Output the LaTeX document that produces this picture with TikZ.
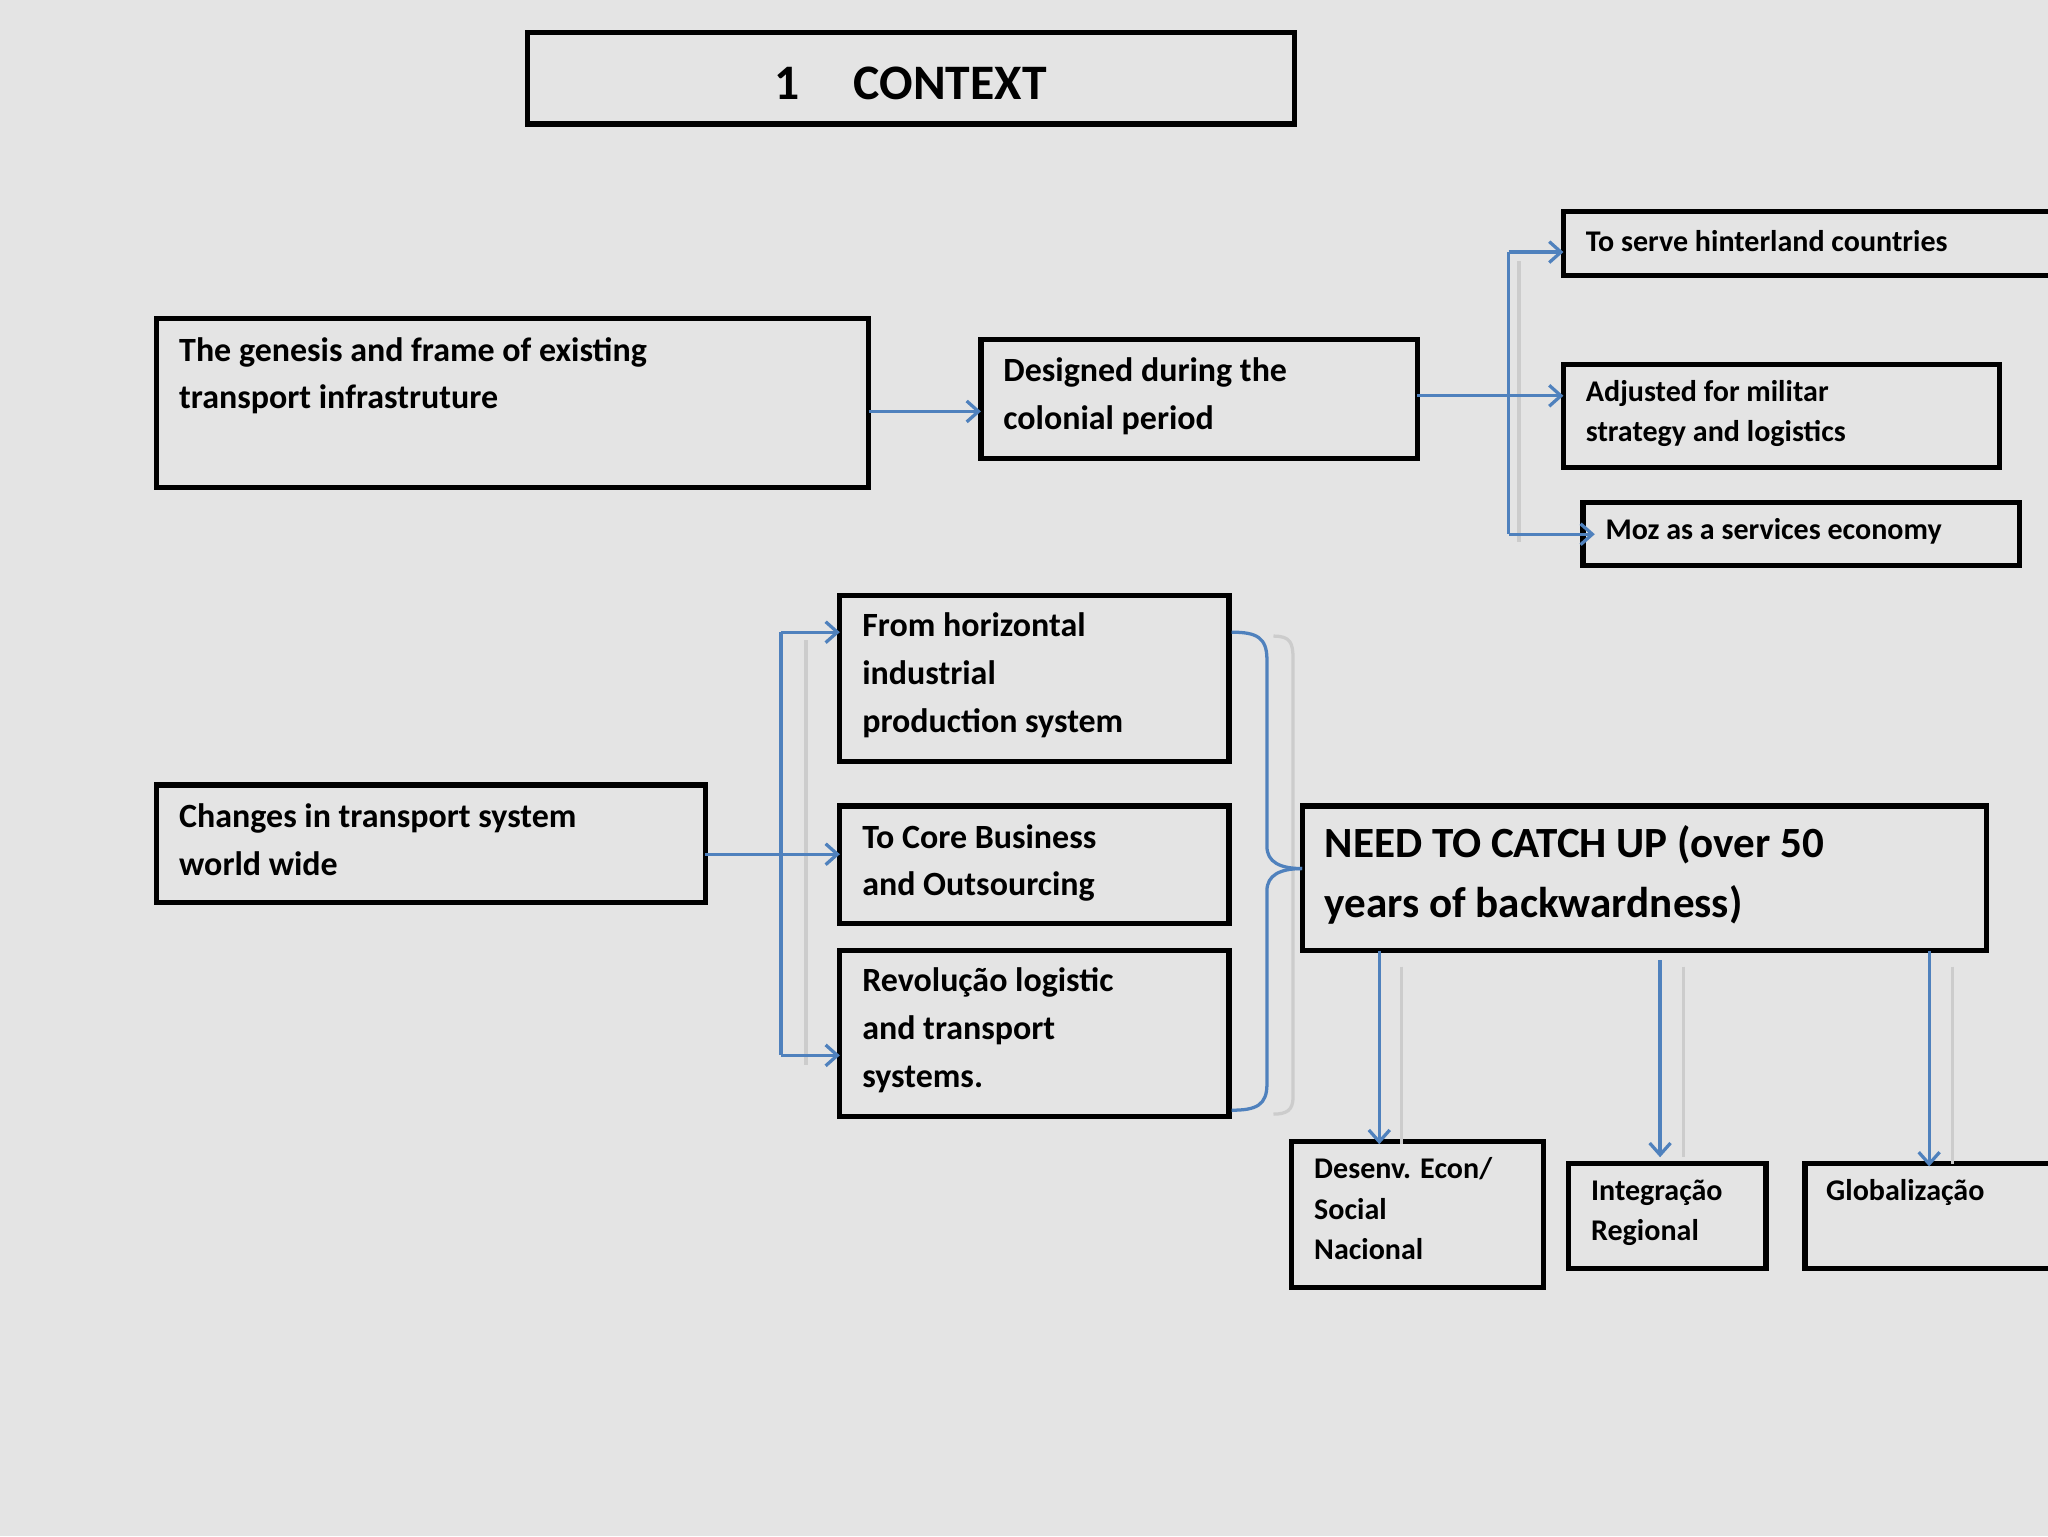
\documentclass[tikz,border=0pt]{standalone}
\usepackage{fontspec}
\setmainfont{Carlito}
\usetikzlibrary{arrows.meta}
\definecolor{bg}{HTML}{E4E4E4}
\definecolor{ab}{HTML}{4F81BD}
\begin{document}
\begin{tikzpicture}[x=1pt,y=-1pt,
 box/.style={draw=black,line width=4pt,fill=none},
 txt/.style={anchor=north west,align=left,inner sep=0pt,font=\fontsize{26}{36.5}\selectfont\bfseries},
 stxt/.style={anchor=north west,align=left,inner sep=0pt,font=\fontsize{23}{31}\selectfont\bfseries},
 arr/.style={draw=ab,line width=2.5pt,-{Straight Barb[length=9pt,width=16pt]}},
 ln/.style={draw=ab,line width=2.5pt},
 sh/.style={draw=black!20,line width=2.5pt}]
\fill[bg] (0,0) rectangle (1568,1176);
\useasboundingbox (0,0) rectangle (1568,1176);
% title
\draw[box] (404,25) rectangle (991,95);
\node[font=\fontsize{38}{40}\selectfont\bfseries] (title) at (697,64) {1\hspace{1.1em}CONTEXT};
% boxes
\draw[box] (120,244) rectangle (665,373);
\node[txt] (gen) at (137,258) {The genesis and frame of existing\\transport infrastruture};
\coordinate (genR) at (665,315);
\draw[box] (751,260) rectangle (1085,351);
\node[txt] (des) at (768,274) {Designed during the\\colonial period};
\coordinate (desL) at (751,315); \coordinate (desR) at (1085,303);
\draw[box] (1197,162) rectangle (1580,211);
\node[stxt] (hin) at (1214,176) {To serve hinterland countries};
\draw[box] (1197,279) rectangle (1531,358);
\node[stxt] (mil) at (1214,291) {Adjusted for militar\\strategy and logistics};
\draw[box] (1212,385) rectangle (1546,433);
\node[stxt] (moz) at (1229,397) {Moz as a services economy};
\draw[box] (120,601) rectangle (540,691);
\node[txt] (chg) at (137,615) {Changes in transport system\\world wide};
\draw[box] (643,456) rectangle (941,583);
\node[txt] (hor) at (660,469) {From horizontal\\industrial\\production system};
\draw[box] (643,617) rectangle (941,707);
\node[txt] (core) at (660,631) {To Core Business\\and Outsourcing};
\draw[box] (643,728) rectangle (941,855);
\node[txt] (rev) at (660,741) {Revolução logistic\\and transport\\systems.};
\draw[box] (997,617) rectangle (1521,728);
\node[anchor=north west,align=left,inner sep=0pt,font=\fontsize{33}{46}\selectfont\bfseries] (need) at (1014,632) {NEED TO CATCH UP (over 50\\years of backwardness)};
\draw[box] (989,874) rectangle (1182,986);
\node[stxt] (des2) at (1006,886) {Desenv. Econ/\\Social\\Nacional};
\draw[box] (1201,891) rectangle (1352,971);
\node[stxt] (int) at (1218,903) {Integração\\Regional};
\draw[box] (1382,891) rectangle (1580,971);
\node[stxt] (glo) at (1398,903) {Globalização};
% connectors top
\draw[arr] (genR) -- (desL);
\draw[sh] (1163,200) -- (1163,415);
\draw[ln] (desR) -- (1155,303);
\draw[ln] (1155,193) -- (1155,409);
\draw[arr] (1155,193) -- (1197,193);
\draw[arr] (1155,303) -- (1197,303);
\draw[arr] (1155,409) -- (1221,409);
% connectors middle
\draw[sh] (617,490) -- (617,815);
\draw[ln] (598,484) -- (598,808);
\draw[arr] (540,654) -- (643,654);
\draw[arr] (598,484) -- (643,484);
\draw[arr] (598,808) -- (643,808);
% brace
\draw[sh] (975,487) .. controls (988,487) and (990,492) .. (990,505) -- (990,840) .. controls (990,850) and (985,853) .. (975,853);
\draw[ln] (943,484) .. controls (962,484) and (970,488) .. (970,505) -- (970,648) .. controls (970,660) and (980,665) .. (997,665);
\draw[ln] (943,850) .. controls (962,850) and (970,846) .. (970,830) -- (970,682) .. controls (970,670) and (980,665) .. (997,665);
% down arrows
\draw[sh] (1073,740) -- (1073,876);
\draw[sh] (1289,740) -- (1289,886);
\draw[sh] (1495,740) -- (1495,891);
\draw[arr] (1056,728) -- (1056,876);
\draw[arr] (1271,735) -- (1271,886);
\draw[arr] (1477,728) -- (1477,893);
\end{tikzpicture}
\end{document}
